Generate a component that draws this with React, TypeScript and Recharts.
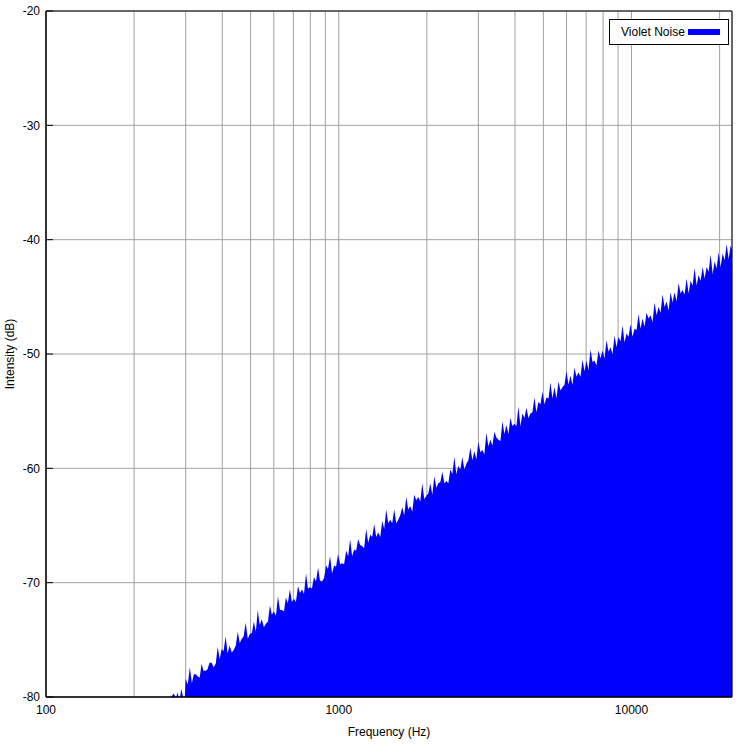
import { AreaChart, Area, XAxis, YAxis, CartesianGrid, Legend, ReferenceArea } from 'recharts'

// spectrum bins (Hz) at the spike tops
const peakFreqs = [
  100, 268, 273, 277, 279, 281, 284, 287, 290, 294, 298,
  300, 310, 320, 330, 340, 351, 362, 374, 386, 398, 411, 424, 438, 452, 466, 481, 497, 513, 529, 546,
  564, 582, 600, 620, 640, 660, 681, 703, 726, 749, 773, 798, 823, 850, 877, 905, 934, 964, 995, 1027,
  1060, 1094, 1129, 1165, 1202, 1241, 1281, 1322, 1364, 1408, 1453, 1499, 1547, 1597, 1648, 1701, 1755,
  1811, 1869, 1929, 1991, 2055, 2121, 2189, 2259, 2331, 2406, 2483, 2562, 2644, 2729, 2816, 2906, 2999,
  3095, 3194, 3296, 3402, 3511, 3623, 3739, 3859, 3982, 4110, 4241, 4377, 4517, 4661, 4810, 4964, 5123,
  5287, 5456, 5631, 5811, 5997, 6189, 6387, 6591, 6802, 7020, 7244, 7476, 7715, 7962, 8217, 8480, 8751,
  9031, 9320, 9618, 9926, 10244, 10572, 10910, 11259, 11619, 11991, 12375, 12771, 13180, 13602, 14037,
  14486, 14950, 15428, 15922, 16431, 16957, 17500, 18060, 18638, 19234, 19850, 20485, 21140, 21817, 22050,
]

// intensity (dB) at those bins
const peakDb = [
  -80, -80, -79.7, -80, -80, -79.6, -80, -80, -79.3, -80, -80,
  -78.4, -77.4, -78.0, -78.2, -77.1, -77.7, -77.0, -77.4, -75.6, -75.8, -74.7, -75.5, -75.9, -74.3, -74.9,
  -73.5, -74.5, -73.4, -72.4, -73.2, -73.6, -72.0, -72.5, -71.2, -72.4, -71.3, -70.6, -71.4, -70.3, -70.6,
  -69.2, -70.4, -69.5, -68.7, -69.9, -68.5, -67.7, -68.5, -67.5, -68.3, -67.2, -66.2, -67.1, -66.2, -66.8,
  -65.3, -65.8, -64.9, -65.6, -64.6, -63.6, -64.5, -63.6, -64.5, -63.4, -62.5, -63.3, -62.3, -62.5, -61.3,
  -62.4, -61.3, -60.7, -61.3, -60.3, -61.1, -60.1, -59.0, -59.8, -59.0, -59.6, -58.2, -58.5, -57.7, -58.4,
  -56.9, -57.5, -56.8, -57.5, -55.9, -56.2, -55.6, -56.1, -54.6, -55.2, -54.7, -55.2, -53.8, -54.2, -53.3,
  -53.8, -52.5, -52.9, -52.4, -52.9, -51.5, -51.9, -51.2, -51.6, -50.5, -50.6, -49.6, -50.6, -49.7, -49.7,
  -48.8, -49.4, -48.4, -48.5, -47.5, -48.2, -47.4, -47.8, -46.5, -46.9, -46.4, -46.6, -45.5, -45.9, -44.8,
  -45.4, -44.6, -44.6, -43.8, -44.4, -43.4, -43.6, -42.5, -43.1, -42.4, -42.4, -41.3, -41.9, -41.1, -41.2,
  -40.4, -40.5, -40.9,
]

// bins in the dips between the spikes
const valleyFreqs = [
  305, 315, 325, 335, 345, 356, 368, 380, 392, 404, 417, 431, 445, 459, 473, 489, 505, 521, 537, 555,
  573, 591, 610, 630, 650, 670, 692, 714, 737, 761, 785, 810, 836, 863, 891, 919, 949, 979, 1011, 1043,
  1077, 1111, 1147, 1183, 1221, 1261, 1301, 1343, 1386, 1430, 1476, 1523, 1572, 1622, 1674, 1728, 1783,
  1840, 1899, 1960, 2023, 2088, 2155, 2224, 2295, 2368, 2444, 2522, 2603, 2686, 2772, 2861, 2952, 3047,
  3144, 3245, 3349, 3456, 3567, 3681, 3799, 3920, 4046, 4175, 4309, 4447, 4589, 4735, 4887, 5043, 5205,
  5371, 5543, 5721, 5904, 6093, 6288, 6489, 6696, 6911, 7132, 7360, 7595, 7838, 8089, 8348, 8615, 8891,
  9175, 9469, 9772, 10085, 10408, 10741, 11084, 11439, 11805, 12183, 12573, 12975, 13391, 13819, 14261,
  14718, 15189, 15675, 16176, 16694, 17228, 17780, 18349, 18936, 19542, 20167, 20812, 21478,
]

const valleyDb = [
  -78.9, -78.8, -78.0, -78.3, -77.7, -77.6, -77.0, -77.1, -76.7, -76.0, -76.2, -76.1, -75.5, -75.3, -74.7,
  -74.9, -74.4, -74.3, -73.7, -73.9, -73.4, -72.8, -72.9, -72.4, -72.5, -71.8, -71.7, -71.7, -70.9, -71.0,
  -70.5, -70.5, -69.9, -69.8, -69.6, -68.8, -69.2, -68.6, -68.4, -68.4, -67.7, -67.7, -67.2, -66.7, -67.0,
  -66.5, -66.0, -66.0, -66.0, -65.3, -64.8, -64.8, -64.8, -64.1, -64.1, -63.6, -63.8, -62.8, -62.9, -62.7,
  -62.2, -62.3, -61.7, -61.2, -61.3, -61.3, -60.5, -60.5, -60.1, -60.1, -59.3, -59.3, -59.2, -58.6, -58.8,
  -58.1, -58.0, -57.3, -57.6, -57.0, -57.0, -56.3, -56.3, -56.3, -55.6, -55.6, -55.1, -55.1, -54.4, -54.4,
  -53.9, -53.9, -53.9, -53.2, -52.7, -52.7, -52.7, -52.0, -52.0, -51.5, -51.4, -50.7, -51.0, -50.4, -50.4,
  -49.8, -50.0, -49.4, -48.9, -49.0, -48.5, -48.5, -47.9, -47.8, -47.6, -46.9, -47.2, -46.6, -46.4, -45.9,
  -46.2, -45.5, -45.4, -44.7, -44.8, -44.7, -44.0, -44.0, -43.6, -43.4, -42.8, -43.0, -42.5, -42.4, -41.8,
  -41.7,
]

const xTicks = [
  100, 200, 300, 400, 500, 600, 700, 800, 900,
  1000, 2000, 3000, 4000, 5000, 6000, 7000, 8000, 9000,
  10000, 20000,
]
const xLabels = [100, 1000, 10000]
const yTicks = [-80, -70, -60, -50, -40, -30, -20]

const data = [
  ...peakFreqs.map((f, i) => ({ f, db: peakDb[i] })),
  ...valleyFreqs.map((f, i) => ({ f, db: valleyDb[i] })),
].sort((a, b) => a.f - b.f)

const FONT = '"Liberation Sans", Arial, sans-serif'

function LegendBox() {
  return (
    <div
      style={{
        boxSizing: 'border-box',
        width: 120,
        height: 26,
        border: '1px solid #000',
        background: '#fff',
        fontFamily: FONT,
        fontSize: 12,
        position: 'relative',
      }}
    >
      <span style={{ position: 'absolute', left: 11, top: 5, color: '#000', lineHeight: '14px' }}>Violet Noise</span>
      <span style={{ position: 'absolute', left: 78, top: 9, width: 32, height: 6, background: '#0000ff' }} />
    </div>
  )
}

export default function App() {
  return (
    <div style={{ position: 'absolute', left: 0, top: 0, width: 750, height: 750, background: '#fff' }}>
      <AreaChart
        width={750}
        height={750}
        data={data}
        margin={{ top: 11, right: 18, bottom: 0, left: 0 }}
        style={{ fontFamily: FONT }}
      >
        <CartesianGrid stroke="#a0a0a0" strokeWidth={1} />
        <XAxis
          dataKey="f"
          type="number"
          scale="log"
          domain={[100, 22050]}
          allowDataOverflow
          ticks={xTicks}
          interval={0}
          height={53}
          tickLine={false}
          axisLine={{ stroke: '#000' }}
          tick={{ fill: '#000', fontSize: 12 }}
          tickFormatter={(v: number) => (xLabels.includes(v) ? String(v) : '')}
          label={{ value: 'Frequency (Hz)', position: 'insideBottom', offset: 14, fill: '#000', fontSize: 12 }}
        />
        <YAxis
          type="number"
          domain={[-80, -20]}
          ticks={yTicks}
          width={46}
          tickSize={-7}
          tickMargin={13}
          tickLine={{ stroke: '#000' }}
          axisLine={{ stroke: '#000' }}
          tick={{ fill: '#000', fontSize: 12 }}
          label={{ value: 'Intensity (dB)', angle: -90, position: 'center', dx: -13, fill: '#000', fontSize: 12 }}
        />
        <Area
          type="linear"
          dataKey="db"
          name="Violet Noise"
          baseValue={-80}
          fill="#0000ff"
          fillOpacity={1}
          stroke="none"
          dot={false}
          activeDot={false}
          isAnimationActive={false}
        />
        <ReferenceArea x1={100} x2={22050} y1={-80} y2={-20} fill="none" stroke="#000" strokeWidth={1} ifOverflow="visible" />
        <Legend
          layout="horizontal"
          verticalAlign="middle"
          align="center"
          wrapperStyle={{ left: 609, top: 19, width: 120, height: 26 }}
          content={() => <LegendBox />}
        />
      </AreaChart>
    </div>
  )
}
